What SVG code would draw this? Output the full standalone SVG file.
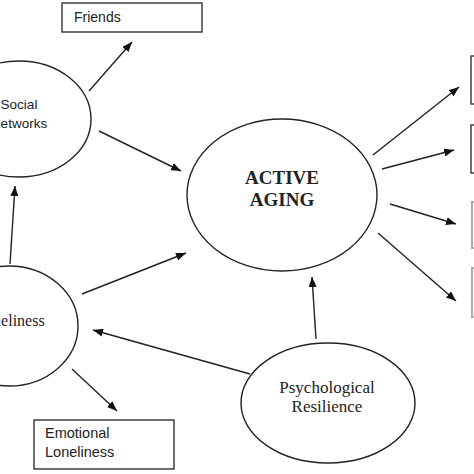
<svg xmlns="http://www.w3.org/2000/svg" width="474" height="474" viewBox="0 0 474 474">
<style>
.node{fill:#fff;stroke:#222;stroke-width:1.4}
.box{fill:#fff;stroke:#333;stroke-width:1.4}
.gbox{fill:#fff;stroke:#aaa;stroke-width:2}
.sans{font-family:"Liberation Sans",Arial,sans-serif;fill:#222}
.serif{font-family:"Liberation Serif","Times New Roman",serif;fill:#222}
.edge{stroke:#222;stroke-width:1.4;fill:none;marker-end:url(#ah)}
</style>
<defs>
<marker id="ah" viewBox="0 0 10 8" refX="10" refY="4" markerWidth="10" markerHeight="8" markerUnits="userSpaceOnUse" orient="auto">
<path d="M0,0 L10,4 L0,8 Z" fill="#111"/>
</marker>
</defs>
<rect width="474" height="474" fill="#fff"/>
<g id="friends">
<rect class="box" x="62" y="3" width="140" height="29"/>
<text class="sans" x="74" y="22" font-size="14">Friends</text>
</g>
<g id="social-networks">
<ellipse class="node" cx="19" cy="119" rx="72" ry="58"/>
<text class="sans" x="19" y="109" font-size="13.5" text-anchor="middle">Social</text>
<text class="sans" x="19" y="128" font-size="13.5" text-anchor="middle">Networks</text>
</g>
<g id="active-aging">
<ellipse class="node" cx="282" cy="195" rx="95" ry="76"/>
<text class="serif" x="282" y="184" font-size="19" font-weight="bold" text-anchor="middle">ACTIVE</text>
<text class="serif" x="282" y="206" font-size="19" font-weight="bold" text-anchor="middle">AGING</text>
</g>
<g id="loneliness">
<ellipse class="node" cx="9" cy="326" rx="69" ry="60"/>
<text class="serif" x="10" y="326" font-size="16" text-anchor="middle">Loneliness</text>
</g>
<g id="psychological-resilience">
<ellipse class="node" cx="328" cy="403" rx="87" ry="60"/>
<text class="serif" x="327" y="393" font-size="17" text-anchor="middle">Psychological</text>
<text class="serif" x="327" y="412" font-size="17" text-anchor="middle">Resilience</text>
</g>
<g id="emotional-loneliness">
<rect class="box" x="34" y="420" width="140" height="49"/>
<text class="sans" x="45" y="438" font-size="14.5">Emotional</text>
<text class="sans" x="45" y="457" font-size="14.5">Loneliness</text>
</g>
<g id="right-box-1"><rect class="box" x="471" y="56" width="40" height="48"/></g>
<g id="right-box-2"><rect class="box" x="471" y="125" width="40" height="48"/></g>
<g id="right-box-3"><rect class="gbox" x="472" y="202" width="40" height="46"/></g>
<g id="right-box-4"><rect class="gbox" x="472" y="268" width="40" height="49"/></g>
<g id="connectors">
<line class="edge" x1="89" y1="91" x2="132" y2="42"/>
<line class="edge" x1="99" y1="131" x2="181" y2="171"/>
<line class="edge" x1="10" y1="264" x2="15" y2="186"/>
<line class="edge" x1="82" y1="294" x2="186" y2="253"/>
<line class="edge" x1="250" y1="374" x2="93" y2="330"/>
<line class="edge" x1="72" y1="369" x2="117" y2="411"/>
<line class="edge" x1="316" y1="339" x2="312" y2="277"/>
<line class="edge" x1="373" y1="155" x2="459" y2="87"/>
<line class="edge" x1="382" y1="169" x2="454" y2="150"/>
<line class="edge" x1="390" y1="204" x2="456" y2="224"/>
<line class="edge" x1="378" y1="233" x2="456" y2="301"/>
</g>
</svg>
